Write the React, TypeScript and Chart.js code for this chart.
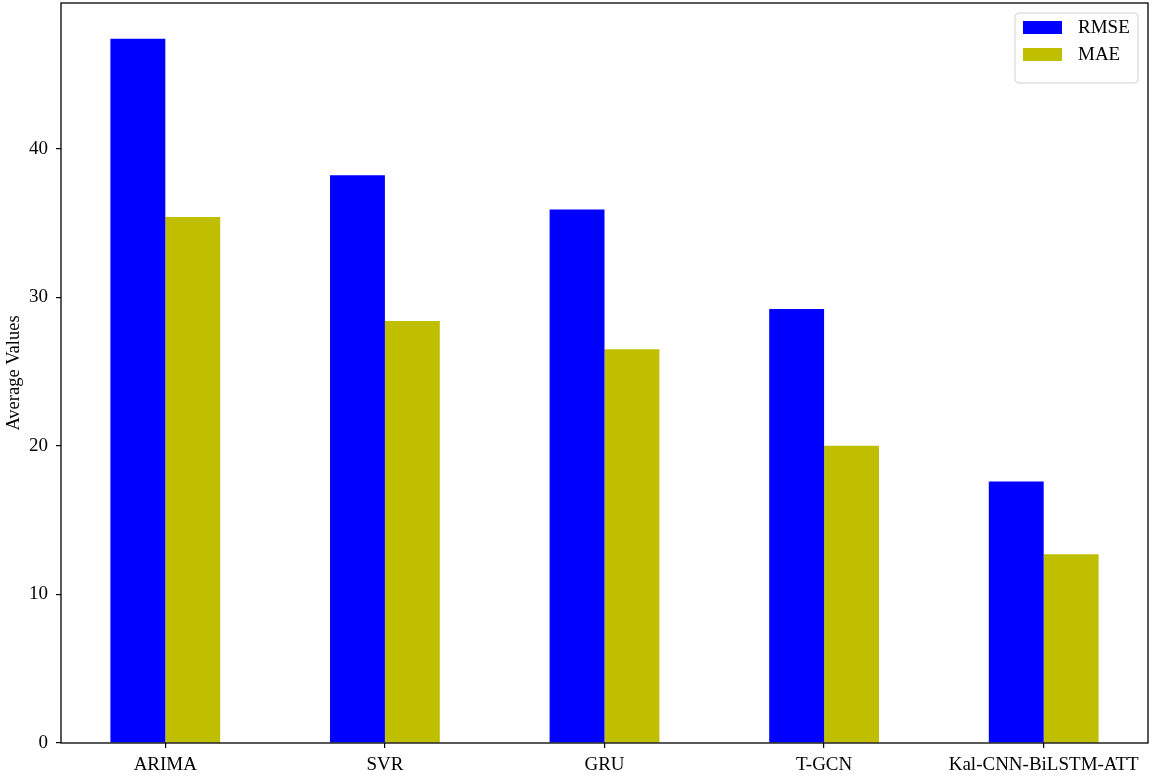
import React, { useEffect, useRef } from "react";
import { Chart, registerables } from "chart.js";

Chart.register(...registerables);

const categories = ["ARIMA", "SVR", "GRU", "T-GCN", "Kal-CNN-BiLSTM-ATT"];
const rmseValues = [47.4, 38.2, 35.9, 29.2, 17.6];
const maeValues = [35.4, 28.4, 26.5, 20.0, 12.7];
const yTicks = [0, 10, 20, 30, 40];
const seriesNames = ["RMSE", "MAE"];
const seriesColors = ["#0000ff", "#bfbf00"];

const FONT = "'Liberation Serif', 'DejaVu Serif', serif";

const framePlugin = {
  id: "frameAndLegend",
  afterDraw(chart: any) {
    const { ctx, chartArea } = chart;
    const { left, top, right, bottom } = chartArea;
    ctx.save();
    ctx.strokeStyle = "#000";
    ctx.lineWidth = 1.3;
    ctx.strokeRect(left, top, right - left, bottom - top);

    // legend (matplotlib-like, inside upper right)
    const boxW = 123;
    const boxH = 70;
    const bx = right - 10 - boxW;
    const by = top + 10;
    const r = 4;
    ctx.beginPath();
    ctx.moveTo(bx + r, by);
    ctx.lineTo(bx + boxW - r, by);
    ctx.quadraticCurveTo(bx + boxW, by, bx + boxW, by + r);
    ctx.lineTo(bx + boxW, by + boxH - r);
    ctx.quadraticCurveTo(bx + boxW, by + boxH, bx + boxW - r, by + boxH);
    ctx.lineTo(bx + r, by + boxH);
    ctx.quadraticCurveTo(bx, by + boxH, bx, by + boxH - r);
    ctx.lineTo(bx, by + r);
    ctx.quadraticCurveTo(bx, by, bx + r, by);
    ctx.closePath();
    ctx.fillStyle = "rgba(255,255,255,0.8)";
    ctx.fill();
    ctx.strokeStyle = "#d0d0d0";
    ctx.lineWidth = 1;
    ctx.stroke();

    chart.data.datasets.forEach((ds: any, i: number) => {
      const hy = by + 8 + i * 27;
      ctx.fillStyle = ds.backgroundColor;
      ctx.fillRect(bx + 8, hy, 39, 13);
      ctx.fillStyle = "#000";
      ctx.font = `19px ${FONT}`;
      ctx.textAlign = "left";
      ctx.textBaseline = "middle";
      ctx.fillText(ds.label, bx + 63, hy + 7);
    });
    ctx.restore();
  },
};

export default function App() {
  const canvasRef = useRef<HTMLCanvasElement | null>(null);

  useEffect(() => {
    document.body.style.margin = "0";
    const canvas = canvasRef.current;
    if (!canvas) return;
    const chart = new Chart(canvas, {
      type: "bar",
      data: {
        datasets: [
          {
            label: seriesNames[0],
            data: rmseValues.map((v, i) => ({ x: i, y: v })),
            backgroundColor: seriesColors[0],
            borderWidth: 0,
            categoryPercentage: 0.5,
            barPercentage: 1.0,
          },
          {
            label: seriesNames[1],
            data: maeValues.map((v, i) => ({ x: i, y: v })),
            backgroundColor: seriesColors[1],
            borderWidth: 0,
            categoryPercentage: 0.5,
            barPercentage: 1.0,
          },
        ],
      } as any,
      options: {
        animation: false,
        responsive: false,
        devicePixelRatio: 1,
        layout: { padding: { top: 3, right: 6, left: 0, bottom: 0 } },
        plugins: {
          legend: { display: false },
          tooltip: { enabled: false },
        },
        scales: {
          x: {
            type: "linear",
            min: -0.475,
            max: categories.length - 1 + 0.475,
            offset: false,
            afterBuildTicks: (scale: any) => {
              scale.ticks = categories.map((_, i) => ({ value: i }));
            },
            afterFit: (scale: any) => {
              scale.height = 38;
              scale.paddingLeft = 0;
              scale.paddingRight = 0;
            },
            ticks: {
              autoSkip: false,
              maxRotation: 0,
              padding: 6,
              color: "#000",
              font: { family: FONT, size: 19 },
              callback: (v: any) => categories[Math.round(Number(v))] ?? "",
            },
            grid: {
              display: true,
              offset: false,
              drawOnChartArea: false,
              drawTicks: true,
              tickLength: 5,
              color: "#000",
              lineWidth: 1.2,
            },
            border: { display: false },
          },
          y: {
            type: "linear",
            min: 0,
            max: 49.8,
            afterBuildTicks: (scale: any) => {
              scale.ticks = yTicks.map((v) => ({ value: v }));
            },
            afterFit: (scale: any) => {
              scale.width = 61;
              scale.paddingTop = 0;
              scale.paddingBottom = 0;
            },
            ticks: {
              padding: 8,
              color: "#000",
              font: { family: FONT, size: 19 },
            },
            grid: {
              display: true,
              offset: false,
              drawOnChartArea: false,
              drawTicks: true,
              tickLength: 5,
              color: "#000",
              lineWidth: 1.2,
            },
            border: { display: false },
            title: {
              display: true,
              text: "Average Values",
              color: "#000",
              font: { family: FONT, size: 18.5 },
              padding: { top: 3, bottom: 0 },
            },
          },
        },
      } as any,
      plugins: [framePlugin],
    });
    return () => chart.destroy();
  }, []);

  return (
    <div style={{ width: 1154, height: 781, background: "#fff" }}>
      <canvas ref={canvasRef} width={1154} height={781} style={{ display: "block" }} />
    </div>
  );
}
